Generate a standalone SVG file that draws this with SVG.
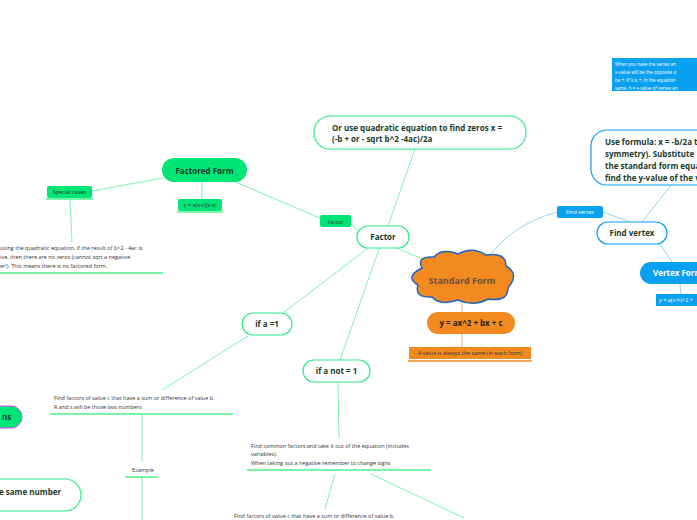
<svg xmlns="http://www.w3.org/2000/svg" width="697" height="520" viewBox="0 0 697 520">
<style>
text{font-family:"Open Sans","Noto Sans",sans-serif;fill:#333}
.b{font-weight:bold;fill:#1a3a2a}
.s{font-size:5.5px}
.m{font-size:8px}
.g{stroke:#5cf0a0;stroke-width:0.8;fill:none}
.bl{stroke:#7cc8f0;stroke-width:0.8;fill:none}
.o{stroke:#f0a060;stroke-width:0.8;fill:none}
.ul{stroke:#4cf08f;stroke-width:1.5}
.gt{fill:#00e676}
.wn{fill:#fff;stroke:#33e88a;stroke-width:1.2}
.bn{fill:#fff;stroke:#0aa0f0;stroke-width:1.2}
</style>
<rect width="697" height="520" fill="#fff"/>
<g id="connectors">
<path class="g" d="M163 178L92 191M202 182V199M233 181L320 218M351 224L357 230M388 226L415 149M396 248L437 265M367 249L283 313M379 249L340 360M248 336L162 390M70 200L72 242M142 413V462M142 477V520M338 382L339 438M335 474L325 509M371 474L464 518"/>
<path class="bl" d="M485 262Q510 225 557 212M603 212L630 222M642 222L671 185M660 244L672 262M680 284L681 294"/>
<path class="o" d="M462 300V312M462 334V347"/>
</g>
<g id="factored-form"><rect x="162" y="158" width="85" height="24" rx="12" class="gt"/><text x="204.5" y="174" text-anchor="middle" class="b m">Factored Form</text></g>
<g id="special-cases"><rect x="47" y="186" width="45" height="12" rx="2" class="gt"/><line x1="46" y1="199" x2="93" y2="199" class="ul"/><text x="69.5" y="194" text-anchor="middle" class="s">Special cases</text></g>
<g id="factored-eq"><rect x="178" y="199" width="44" height="12" rx="2" class="gt"/><line x1="177" y1="212" x2="223" y2="212" class="ul"/><text x="200" y="207" text-anchor="middle" class="s">y = a(x-r)(x-s)</text></g>
<g id="special-text"><text class="s" x="0" y="250">using the quadratic equation, if the result of b^2 - 4ac is</text><text class="s" x="0" y="259">ive, then there are no zeros (cannot sqrt a negative</text><text class="s" x="0" y="268">er!). This means there is no factored form.</text><line x1="0" y1="273" x2="163" y2="273" class="ul"/></g>
<g id="factor-tag"><rect x="320" y="215" width="31" height="12" rx="2" class="gt"/><text x="335.5" y="224" text-anchor="middle" class="s">Factor</text></g>
<g id="factor"><rect x="357" y="226" width="52" height="22" rx="11" class="wn"/><text x="383" y="240" text-anchor="middle" class="b m">Factor</text></g>
<g id="quadratic"><rect x="314" y="116" width="212" height="33" rx="16" class="wn"/><text class="b m" x="332" y="131">Or use quadratic equation to find zeros x =</text><text class="b m" x="332" y="142">(-b + or - sqrt b^2 -4ac)/2a</text></g>
<g id="standard-form"><path d="M422 268Q416 256 434 257Q442 248 458 254Q472 246 486 255Q506 252 506 266Q520 274 508 288Q508 302 488 299Q474 307 458 300Q440 306 432 297Q414 298 418 285Q404 277 422 268Z" fill="#f28a1f" stroke="#1e64c8" stroke-width="1.5"/><text x="462" y="284" text-anchor="middle" font-size="9" font-weight="bold" style="fill:#6a5040">Standard Form</text></g>
<g id="standard-eq"><rect x="427" y="312" width="88" height="22" rx="11" fill="#f28a1f"/><text x="471" y="326" text-anchor="middle" class="m" font-weight="bold" style="fill:#222">y = ax^2 + bx + c</text></g>
<g id="a-value"><rect x="409" y="347" width="122" height="12" fill="#f28a1f"/><line x1="408" y1="361" x2="532" y2="361" stroke="#f28a1f" stroke-width="1.5"/><text x="470" y="355" text-anchor="middle" class="s">A value is always the same (in each form)</text></g>
<g id="vertex-tag"><rect x="557" y="206" width="46" height="12" rx="2" fill="#0aa0f0"/><text x="580" y="214" text-anchor="middle" class="s" style="fill:#fff">Find vertex</text></g>
<g id="find-vertex"><rect x="597" y="222" width="70" height="22" rx="11" class="bn"/><text x="632" y="236" text-anchor="middle" class="b m">Find vertex</text></g>
<g id="use-formula"><rect x="591" y="130" width="130" height="55" rx="16" class="bn"/><text class="b m" x="605" y="145">Use formula: x = -b/2a t</text><text class="b m" x="605" y="157">symmetry). Substitute</text><text class="b m" x="605" y="169">the standard form equa</text><text class="b m" x="605" y="181">find the y-value of the v</text></g>
<g id="vertex-note"><rect x="612" y="58" width="90" height="33" fill="#0aa0f0"/><g class="s" style="font-size:4.5px"><text x="615" y="66" style="fill:#fff">When you have the vertex an</text><text x="615" y="74" style="fill:#fff">x-value will be the opposite si</text><text x="615" y="82" style="fill:#fff">be +. If it is +, in the equation</text><text x="615" y="90" style="fill:#fff">same. h = x-value of vertex an</text></g></g>
<g id="vertex-form"><rect x="640" y="262" width="80" height="22" rx="11" fill="#0aa0f0"/><text x="653" y="276" class="m" font-weight="bold" style="fill:#fff">Vertex Form</text></g>
<g id="vertex-eq"><rect x="656" y="294" width="45" height="12" fill="#0aa0f0"/><text x="659" y="302" class="s" style="fill:#fff">y = a(x-h)^2 +</text></g>
<g id="if-a-1"><rect x="242" y="313" width="50" height="22" rx="11" class="wn"/><text x="267" y="327" text-anchor="middle" class="b m">if a =1</text></g>
<g id="if-a-not-1"><rect x="303" y="360" width="67" height="22" rx="11" class="wn"/><text x="336.5" y="374" text-anchor="middle" class="b m">if a not = 1</text></g>
<g id="find-factors-1"><text class="s" x="54" y="400">Find factors of value c that have a sum or difference of value b.</text><text class="s" x="54" y="409">R and s will be those two numbers</text><line x1="50" y1="414" x2="233" y2="414" class="ul"/></g>
<g id="example"><text class="s" x="143" y="472" text-anchor="middle">Example</text><line x1="125" y1="477" x2="158" y2="477" class="ul"/></g>
<g id="ns-node"><rect x="-30" y="406" width="52" height="22" rx="11" fill="#00e676" stroke="#e040fb" stroke-width="1"/><text x="2" y="420" class="b m">ns</text></g>
<g id="same-number"><rect x="-40" y="479" width="121" height="32" rx="16" class="wn"/><text x="-1" y="495" class="b m">e same number</text></g>
<g id="common-factors"><text class="s" x="251" y="448">Find common factors and take it out of the equation (includes</text><text class="s" x="251" y="456">variables).</text><text class="s" x="251" y="465">When taking out a negative remember to change signs</text><line x1="247" y1="470" x2="431" y2="470" class="ul"/></g>
<g id="find-factors-2"><text class="s" x="234" y="518">Find factors of value c that have a sum or difference of value b.</text></g>
</svg>
